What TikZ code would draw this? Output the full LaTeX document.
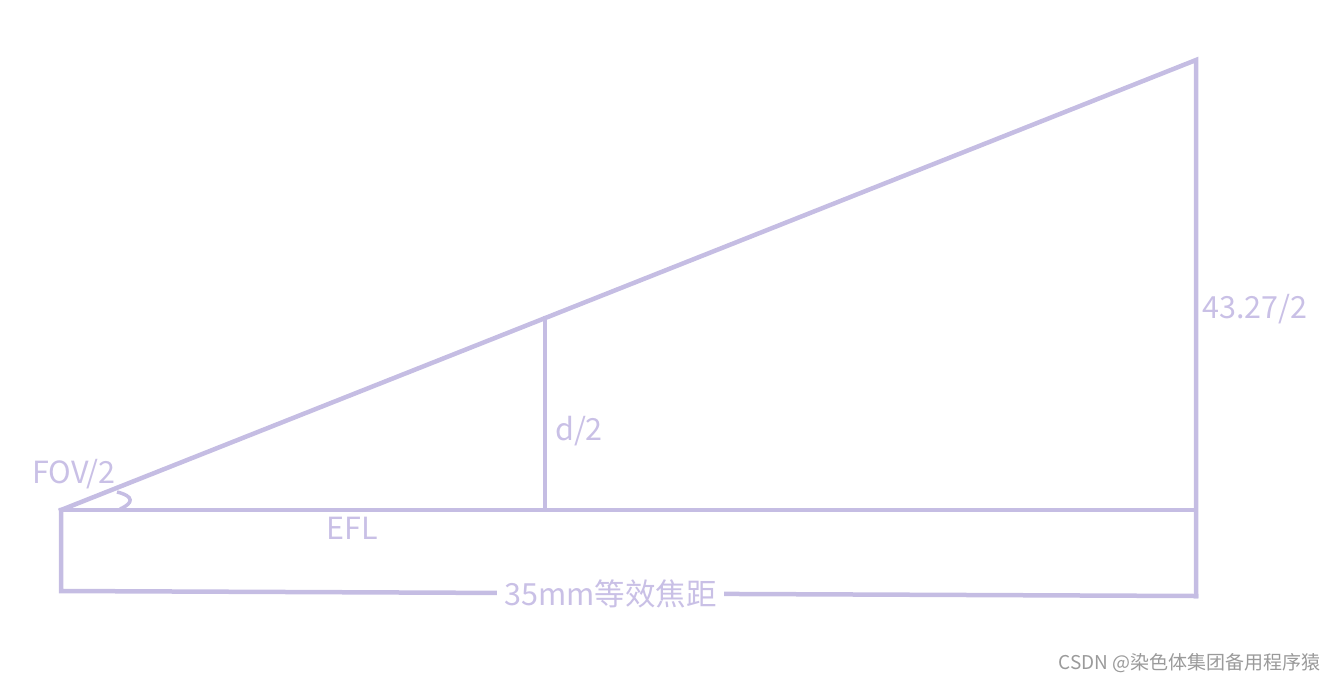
\documentclass[tikz,border=0pt]{standalone}
\usepackage{fontspec}
\setmainfont{Noto Sans CJK SC}
\begin{document}
\begin{tikzpicture}[x=1pt,y=-1pt,
  ln/.style={draw=lineclr,line width=4.5pt,line cap=rect},
  lbl/.style={text=txtclr,font=\fontsize{30.5}{33}\selectfont,inner sep=0pt}]
\definecolor{lineclr}{HTML}{C5BDE3}
\definecolor{txtclr}{HTML}{C9C0E6}
\definecolor{wmclr}{HTML}{9A9A9A}
\useasboundingbox (0,0) rectangle (1337,683);
\coordinate (O) at (61,510);
\coordinate (T) at (1196,60);
\coordinate (B) at (1196,510);
\coordinate (M) at (545,510);
\coordinate (Mt) at (545,318);
\coordinate (BL) at (61,591);
\coordinate (BR) at (1196,596);
\coordinate (A1) at (117,492);
\coordinate (A2) at (120,509);
\draw[ln] (O) -- (T) -- (BR);
\draw[ln] (O) -- (B);
\draw[ln] (M) -- (Mt);
\draw[ln] (O) -- (BL) -- (BR) node[pos=0.484,lbl,fill=white,inner xsep=7pt,inner ysep=2pt] (foc) {35mm等效焦距};
\draw[draw=lineclr,line width=3.5pt] (A1) .. controls (134,496) and (134,503) .. (A2);
\node[lbl,anchor=center] (fov) at (74,474) {FOV/2};
\node[lbl,anchor=center] (efl) at (352,528) {EFL};
\node[lbl,anchor=center] (d2) at (579,431) {d/2};
\node[lbl,anchor=west] (h) at (1202,309) {43.27/2};
\node[text=wmclr,font=\fontsize{19}{21}\selectfont,anchor=east,inner sep=0pt] (wm) at (1321,663) {CSDN @染色体集团备用程序猿};
\end{tikzpicture}
\end{document}
